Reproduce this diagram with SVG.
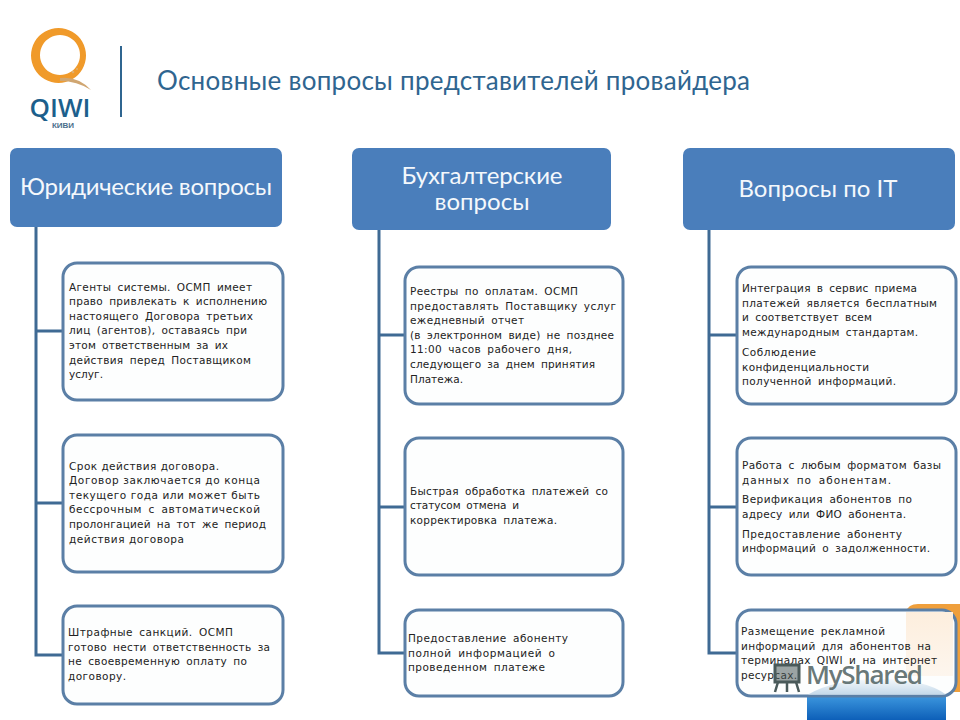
<svg xmlns="http://www.w3.org/2000/svg" width="960" height="720" viewBox="0 0 960 720">
<defs>
<linearGradient id="pale" x1="0" y1="0" x2="0" y2="1"><stop offset="0" stop-color="#fdeedd"/><stop offset="1" stop-color="#fdf6ee"/></linearGradient>
<linearGradient id="blue" x1="0" y1="0" x2="0" y2="1"><stop offset="0" stop-color="#3a94dc"/><stop offset="1" stop-color="#0d5fb8"/></linearGradient>
<linearGradient id="arc" x1="0" y1="0" x2="0" y2="1"><stop offset="0" stop-color="#f4f8fb"/><stop offset="1" stop-color="#c4d9ea"/></linearGradient>
</defs>
<style>
.h{fill:#4a7ebb}
.n{fill:#fdfefe;stroke:#5b7fa6;stroke-width:3}
.c{fill:none;stroke:#3f6a94;stroke-width:3}
.ht{font-family:Lato,"Open Sans",sans-serif;font-size:24px;fill:#f4f8fc;text-anchor:middle}
.t{font-family:"DejaVu Sans",sans-serif;font-size:10.5px;fill:#222;word-spacing:2.5px}
</style>
<rect width="960" height="720" fill="#fff"/>
<g id="logo">
<path fill-rule="evenodd" d="M58.5 28a27.500 27.500 0 1 0 .01 0ZM60 35a20 20 0 1 1-.01 0Z" fill="#f09a2a"/>
<path d="M60 78Q78 76 91 90Q77 81 60 81Z" fill="#d0a671"/>
<circle cx="73" cy="72" r="1.300" fill="#e0b070"/><circle cx="77" cy="69" r="1" fill="#e0b070"/>
<text x="60" y="117" font-family="'Open Sans',sans-serif" font-weight="600" font-size="26" fill="#1c5f8c" text-anchor="middle" textLength="61">QIWI</text>
<text x="63" y="127.500" font-family="'Liberation Sans',sans-serif" font-weight="bold" font-size="8" fill="#4a6f8c" text-anchor="middle">КИВИ</text>
<line x1="121" y1="46" x2="121" y2="117" stroke="#2f6590" stroke-width="2"/>
</g>
<text id="title" x="157" y="90" font-family="Lato,'Open Sans',sans-serif" font-size="26" fill="#2f6590" textLength="593">Основные вопросы представителей провайдера</text>
<g id="connectors">
<path class="c" d="M36 227V655H63M36 331H63M36 503H63"/>
<path class="c" d="M379 230V653H404M379 335H404M379 507H404"/>
<path class="c" d="M709 230V653H736M709 335H736M709 507H736"/>
</g>
<g id="watermark-back">
<path d="M906 612Q908 604 918 604H960V692H906Z" fill="#ef9f3c"/>
<path d="M807 720V697H946V720Z" fill="url(#blue)"/>
</g>
<g id="h1"><rect class="h" x="10" y="148" width="272" height="79" rx="7"/><text class="ht" x="146" y="195" textLength="252">Юридические вопросы</text></g>
<g id="h2"><rect class="h" x="352" y="148" width="259" height="82" rx="7"/><text class="ht" x="482" y="184" textLength="161">Бухгалтерские</text><text class="ht" x="482" y="210" textLength="95">вопросы</text></g>
<g id="h3"><rect class="h" x="683" y="148" width="272" height="82" rx="7"/><text class="ht" x="818" y="197" textLength="159">Вопросы по IT</text></g>
<g id="n1"><rect class="n" x="63" y="263" width="220" height="137" rx="14"/>
<text class="t" x="69" y="291" textLength="183">Агенты системы. ОСМП имеет</text>
<text class="t" x="69" y="305" textLength="198">право привлекать к исполнению</text>
<text class="t" x="69" y="320" textLength="184">настоящего Договора третьих</text>
<text class="t" x="69" y="334" textLength="178">лиц (агентов), оставаясь при</text>
<text class="t" x="69" y="349" textLength="159">этом ответственным за их</text>
<text class="t" x="69" y="364" textLength="182">действия перед Поставщиком</text>
<text class="t" x="69" y="378" textLength="34">услуг.</text></g>
<g id="n2"><rect class="n" x="63" y="435" width="220" height="137" rx="14"/>
<text class="t" x="69" y="470" textLength="150" style="word-spacing:0">Срок действия договора.</text>
<text class="t" x="69" y="484" textLength="191" style="word-spacing:0">Договор заключается до конца</text>
<text class="t" x="69" y="499" textLength="191" style="word-spacing:0">текущего года или может быть</text>
<text class="t" x="69" y="513" textLength="191">бессрочным с автоматической</text>
<text class="t" x="69" y="528" textLength="197">пролонгацией на тот же период</text>
<text class="t" x="69" y="543" textLength="115" style="word-spacing:0">действия договора</text></g>
<g id="n3"><rect class="n" x="63" y="606" width="220" height="98" rx="14"/>
<text class="t" x="68" y="636" textLength="165">Штрафные санкций. ОСМП</text>
<text class="t" x="68" y="651" textLength="202">готово нести ответственность за</text>
<text class="t" x="68" y="665" textLength="179">не своевременную оплату по</text>
<text class="t" x="68" y="680" textLength="58">договору.</text></g>
<g id="n4"><rect class="n" x="405" y="267" width="218" height="137" rx="14"/>
<text class="t" x="410" y="295" textLength="168">Реестры по оплатам. ОСМП</text>
<text class="t" x="410" y="310" textLength="206">предоставлять Поставщику услуг</text>
<text class="t" x="410" y="324" textLength="114">ежедневный отчет</text>
<text class="t" x="410" y="339" textLength="204">(в электронном виде) не позднее</text>
<text class="t" x="410" y="353" textLength="162">11:00 часов рабочего дня,</text>
<text class="t" x="410" y="368" textLength="185">следующего за днем принятия</text>
<text class="t" x="410" y="383" textLength="53">Платежа.</text></g>
<g id="n5"><rect class="n" x="405" y="438" width="218" height="137" rx="14"/>
<text class="t" x="410" y="495" textLength="198">Быстрая обработка платежей со</text>
<text class="t" x="410" y="509" textLength="109">статусом отмена и</text>
<text class="t" x="410" y="524" textLength="147">корректировка платежа.</text></g>
<g id="n6"><rect class="n" x="405" y="610" width="218" height="86" rx="14"/>
<text class="t" x="408" y="642" textLength="160">Предоставление абоненту</text>
<text class="t" x="408" y="657" textLength="147">полной информацией о</text>
<text class="t" x="408" y="671" textLength="137">проведенном платеже</text></g>
<g id="n7"><rect class="n" x="737" y="267" width="219" height="137" rx="14"/>
<text class="t" x="742" y="292" textLength="175">Интеграция в сервис приема</text>
<text class="t" x="742" y="307" textLength="195">платежей является бесплатным</text>
<text class="t" x="742" y="321" textLength="130">и соответствует всем</text>
<text class="t" x="742" y="336" textLength="176">международным стандартам.</text>
<text class="t" x="742" y="356" textLength="74">Соблюдение</text>
<text class="t" x="742" y="371" textLength="127">конфиденциальности</text>
<text class="t" x="742" y="385" textLength="154">полученной информаций.</text></g>
<g id="n8"><rect class="n" x="737" y="438" width="219" height="137" rx="14"/>
<text class="t" x="742" y="469" textLength="199">Работа с любым форматом базы</text>
<text class="t" x="742" y="484" textLength="149">данных по абонентам.</text>
<text class="t" x="742" y="503" textLength="170">Верификация абонентов по</text>
<text class="t" x="742" y="518" textLength="164">адресу или ФИО абонента.</text>
<text class="t" x="742" y="538" textLength="160">Предоставление абоненту</text>
<text class="t" x="742" y="552" textLength="188">информаций о задолженности.</text></g>
<g id="n9"><rect class="n" x="737" y="610" width="219" height="86" rx="14"/>
<path d="M906 612H953V676H906Z" fill="url(#pale)"/>
<path d="M808 694.500Q835 679 880 679Q925 679 946 694.500Z" fill="url(#arc)"/>
<text class="t" x="741" y="635" textLength="144">Размещение рекламной</text>
<text class="t" x="741" y="650" textLength="190">информаций для абонентов на</text>
<text class="t" x="741" y="664" textLength="196">терминалах QIWI и на интернет</text>
<text class="t" x="741" y="679" textLength="56">ресурсах.</text></g>
<g id="watermark">
<rect x="775" y="665" width="24" height="17" fill="#4a5a5a" fill-opacity=".55" stroke="#4a5a5a" stroke-width="3"/>
<path d="M778 682L775 692M796 682L799 692M787 682V692" stroke="#4a5a5a" stroke-width="2.500" fill="none"/>
<text x="806" y="684" font-family="'Open Sans',sans-serif" font-weight="600" font-size="26" fill="#556767" fill-opacity=".9" textLength="117">MyShared</text>
</g>
</svg>
